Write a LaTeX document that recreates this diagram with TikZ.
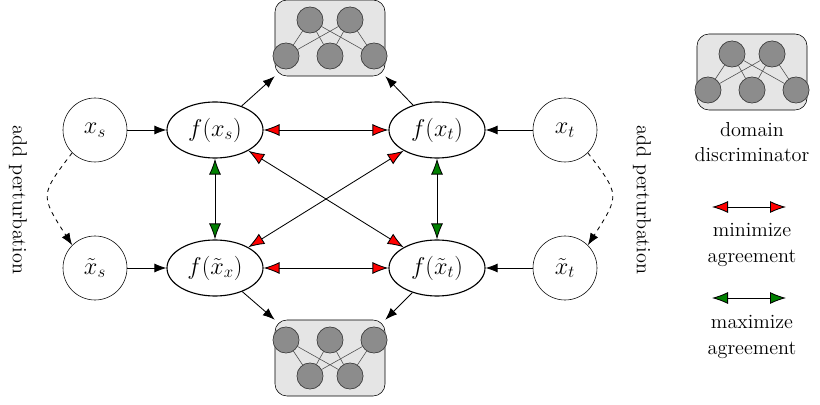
\documentclass[tikz,border=0pt]{standalone}
\usetikzlibrary{arrows.meta,positioning,calc,shapes.geometric}
\tikzset{
  var/.style={circle, minimum size=16mm, inner sep=0pt, draw=black, font=\LARGE},
  feat/.style={ellipse, minimum width=24mm, minimum height=14mm, inner sep=0pt, draw=black, thick, font=\LARGE},
  box/.style={rectangle, rounded corners=3mm, draw=black, fill=black!10, minimum width=27.5mm, minimum height=19mm},
  unit/.style={circle, draw=black!75, fill=black!45, minimum size=6.5mm, inner sep=0pt},
  connect/.style={-{Latex[length=3mm]}, semithick},
  mini/.style={{Latex[length=4mm,width=3mm,fill=red]}-{Latex[length=4mm,width=3mm,fill=red]}, semithick},
  maxi/.style={{Latex[length=4mm,width=3mm,fill=green!50!black]}-{Latex[length=4mm,width=3mm,fill=green!50!black]}, semithick},
  lbl/.style={align=center, font=\Large, inner sep=0pt},
  pics/disc/.style args={#1}{code={
    \node[box] (-box) {};
    \foreach \i/\x in {1/-0.5,2/0.5} \node[unit] (-a\i) at (\x cm,{#1*0.45cm}) {};
    \foreach \i/\x in {1/-1.1,2/0,3/1.1} \node[unit] (-b\i) at (\x cm,{-#1*0.45cm}) {};
    \foreach \i in {1,2} \foreach \j in {1,2,3} \draw[black!70] (-a\i) -- (-b\j);
    \foreach \i in {1,2} \node[unit] at (-a\i) {};
    \foreach \j in {1,2,3} \node[unit] at (-b\j) {};
  }}
}
\begin{document}
\begin{tikzpicture}[x=0.025cm,y=-0.025cm]
  \useasboundingbox (0,0) rectangle (820,405);

  % Inputs and features
  \node[var] (xs) at (95,130) {$x_s$};
  \node[var] (xt) at (565,130) {$x_t$};
  \node[var] (xsp) at (95,268) {$\tilde{x}_s$};
  \node[var] (xtp) at (565,268) {$\tilde{x}_t$};
  \node[feat] (fs) at (215,130) {$f(x_s)$};
  \node[feat] (ft) at (437,130) {$f(x_t)$};
  \node[feat] (fsp) at (215,268) {$f(\tilde{x}_x)$};
  \node[feat] (ftp) at (437,268) {$f(\tilde{x}_t)$};

  % Discriminators
  \pic (top) at (330,38) {disc={1}};
  \pic (bot) at (330,358) {disc={-1}};
  \pic (leg) at (752,72) {disc={1}};
  \node[lbl] (legtxt) at (752,142) {domain\\discriminator};

  \draw[connect] (xs) -- (fs);
  \draw[connect] (xt) -- (ft);
  \draw[connect] (xsp) -- (fsp);
  \draw[connect] (xtp) -- (ftp);
  \draw[connect] (fs) -- (top-box.south west);
  \draw[connect] (ft) -- (top-box.south east);
  \draw[connect] (fsp) -- (bot-box.north west);
  \draw[connect] (ftp) -- (bot-box.north east);

  % Agreement
  \draw[mini] (fs) -- (ft);
  \draw[mini] (fsp) -- (ftp);
  \draw[mini] (fs) -- (ftp);
  \draw[mini] (ft) -- (fsp);
  \draw[maxi] (fs) -- (fsp);
  \draw[maxi] (ft) -- (ftp);

  % Perturbation
  \draw[connect, dashed] (xs.south west) .. controls (40,195) .. (xsp.north west);
  \draw[connect, dashed] (xt.south east) .. controls (620,195) .. (xtp.north east);
  \node[lbl, rotate=-90] (pl) at (18,200) {add perturbation};
  \node[lbl, rotate=-90] (pr) at (642,200) {add perturbation};

  % Legend
  \coordinate (m1) at (712,207); \coordinate (m2) at (786,207);
  \draw[mini] (m1) -- (m2);
  \node[lbl] (mtxt) at (752,245) {minimize\\agreement};
  \coordinate (g1) at (712,298); \coordinate (g2) at (786,298);
  \draw[maxi] (g1) -- (g2);
  \node[lbl] (gtxt) at (752,337) {maximize\\agreement};
\end{tikzpicture}
\end{document}
